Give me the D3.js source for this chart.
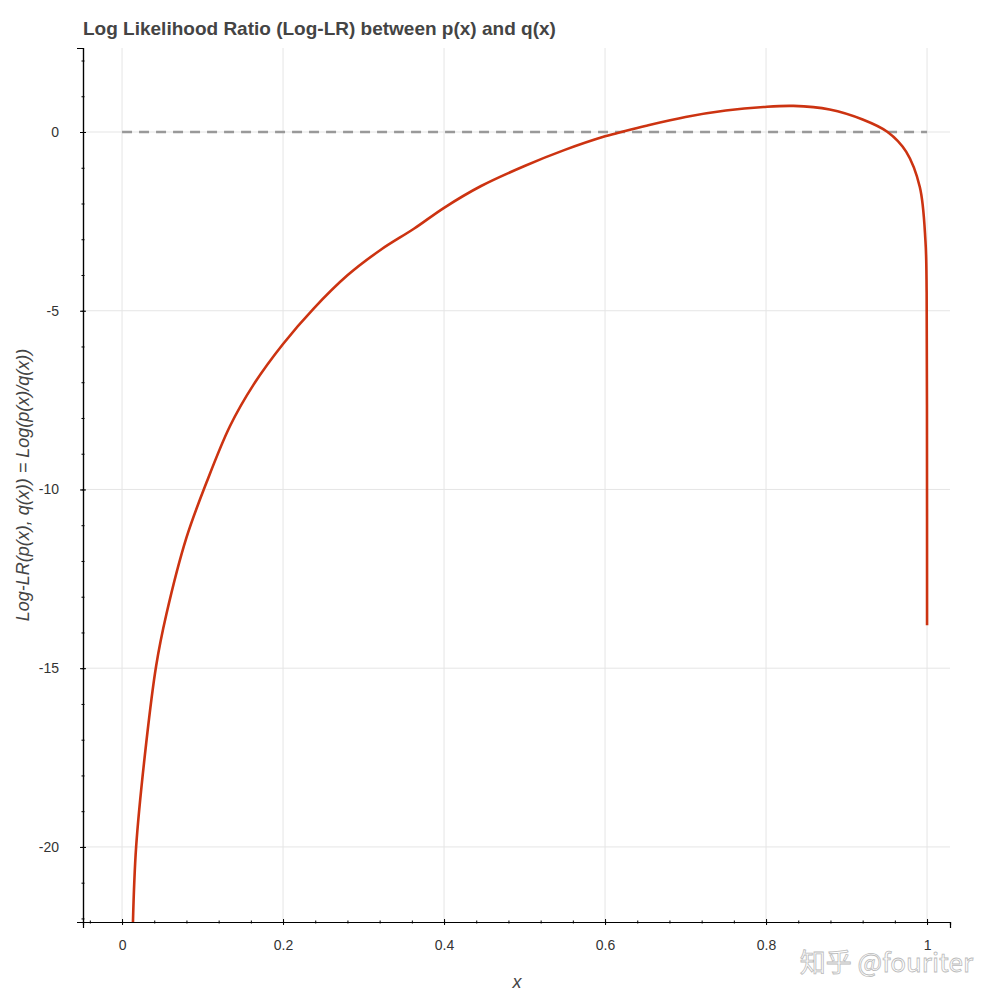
<!DOCTYPE html>
<html><head><meta charset="utf-8">
<script src="https://cdn.jsdelivr.net/npm/d3@7"></script>
<style>body{margin:0;background:#fff}</style></head>
<body><svg id="c" width="1000" height="1000"></svg>
<script>
const xs = [0.0132,0.0175,0.030,0.0424,0.055,0.080,0.105,0.134,0.163,0.2,0.238,0.280,0.321,0.363,0.4,0.446,0.5,0.55,0.6,0.625,0.65,0.7,0.75,0.797,0.834,0.879,0.920,0.951,0.974,0.991,0.998,0.9995,0.9999,1.0];
const ys = [-22.4,-20,-17.1,-14.93,-13.5,-11.35,-9.8,-8.23,-7.08,-5.93,-4.94,-4.01,-3.30,-2.70,-2.12,-1.51,-0.95,-0.50,-0.12,0.03,0.17,0.42,0.60,0.70,0.73,0.63,0.35,0,-0.55,-1.54,-3.05,-4.5,-8.5,-13.8];
const xTicks = [0,0.2,0.4,0.6,0.8,1];
const xTickLabels = ["0","0.2","0.4","0.6","0.8","1"];
const yTicks = [-20,-15,-10,-5,0];
const yTickLabels = ["-20","-15","-10","-5","0"];

const svg = d3.select("#c");
const L=83,R=950,T=48,B=922;
const x = d3.scaleLinear().domain([-0.0485,1.0285]).range([L,R]);
const y = d3.scaleLinear().domain([-22.1,2.35]).range([B,T]);
const g = svg.append("g");
g.selectAll(".gx").data(xTicks).join("line").attr("x1",d=>x(d)).attr("x2",d=>x(d)).attr("y1",T).attr("y2",B).attr("stroke","#e5e5e5").attr("stroke-width",1);
g.selectAll(".gy").data(yTicks).join("line").attr("y1",d=>y(d)).attr("y2",d=>y(d)).attr("x1",L).attr("x2",R).attr("stroke","#e5e5e5").attr("stroke-width",1);
g.append("line").attr("x1",x(0)).attr("x2",x(1)).attr("y1",y(0)).attr("y2",y(0)).attr("stroke","#999").attr("stroke-width",2.5).attr("stroke-dasharray","10,7");
svg.append("clipPath").attr("id","cp").append("rect").attr("x",L).attr("y",T).attr("width",R-L).attr("height",B-T);
const data = xs.map((v,i)=>[v,ys[i]]);
g.append("path").datum(data).attr("clip-path","url(#cp)").attr("fill","none").attr("stroke","#cc3311").attr("stroke-width",2.6)
 .attr("d",d3.line().x(d=>x(d[0])).y(d=>y(d[1])).curve(d3.curveCatmullRom.alpha(0.5)));
const xa = svg.append("g").attr("transform",`translate(0,${B})`)
  .call(d3.axisBottom(x).tickValues(xTicks).tickFormat((d,i)=>xTickLabels[i]).tickSize(6).tickPadding(12));
const xm = svg.append("g").attr("transform",`translate(0,${B})`)
  .call(d3.axisBottom(x).tickValues(d3.range(-0.04,1.03,0.04).map(v=>+v.toFixed(2))).tickFormat("").tickSize(3));
const ya = svg.append("g").attr("transform",`translate(${L},0)`)
  .call(d3.axisLeft(y).tickValues(yTicks).tickFormat((d,i)=>yTickLabels[i]).tickSize(6).tickPadding(18));
const ym = svg.append("g").attr("transform",`translate(${L},0)`)
  .call(d3.axisLeft(y).tickValues(d3.range(-22,3,1)).tickFormat("").tickSize(3));
[xa,xm,ya,ym].forEach(a=>{a.select(".domain").attr("stroke","#000").attr("stroke-width",1.2);a.selectAll("line").attr("stroke","#000");a.selectAll("text").attr("font-family","Liberation Sans, Arial, sans-serif").attr("font-size",14).attr("fill","#333");});
xa.selectAll(".tick line").attr("transform","translate(0,-3)");
ya.selectAll(".tick line").attr("transform","translate(3,0)");
ym.selectAll(".tick line").attr("transform","translate(1.5,0)");
xm.selectAll(".tick line").attr("transform","translate(0,-1.5)");
svg.append("text").attr("x",83).attr("y",35).attr("font-family","Liberation Sans, Arial, sans-serif").attr("font-weight","bold").attr("font-size",19).attr("fill","#444").text("Log Likelihood Ratio (Log-LR) between p(x) and q(x)");
svg.append("text").attr("x",517).attr("y",988).attr("text-anchor","middle").attr("font-family","Liberation Sans, Arial, sans-serif").attr("font-style","italic").attr("font-size",18).attr("fill","#444").text("x");
svg.append("text").attr("transform","translate(29,485) rotate(-90)").attr("text-anchor","middle").attr("font-family","Liberation Sans, Arial, sans-serif").attr("font-style","italic").attr("font-size",18).attr("fill","#444").text("Log-LR(p(x), q(x)) = Log(p(x)/q(x))");
svg.append("text").attr("x",973).attr("y",972).attr("text-anchor","end").attr("font-family","Noto Sans CJK SC, sans-serif").attr("font-size",26).attr("fill","#fff").attr("stroke","#bbb").attr("stroke-width",0.8).text("知乎 @fouriter");
</script></body></html>
